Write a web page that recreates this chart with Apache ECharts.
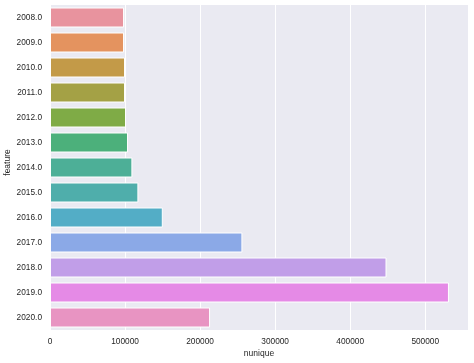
<!DOCTYPE html>
<html>
<head>
<meta charset="utf-8">
<script src="https://cdn.jsdelivr.net/npm/echarts@6/dist/echarts.min.js"></script>
<style>html,body{margin:0;padding:0;background:#fff}#c{width:474px;height:363px}</style>
</head>
<body>
<div id="c"></div>
<script>
const categories = ['2008.0','2009.0','2010.0','2011.0','2012.0','2013.0','2014.0','2015.0','2016.0','2017.0','2018.0','2019.0','2020.0'];
const values = [98700, 98700, 100000, 100000, 101300, 104000, 109800, 117800, 150300, 256400, 448400, 531600, 213300];
const barColors = ['#e8939e','#e4935f','#c39a48','#a4a145','#7fab46','#4cb07b','#4daf97','#4faeab','#53adc6','#8ba9e7','#c19ee8','#e58ae6','#e894c2'];
const xTicks = [0, 100000, 200000, 300000, 400000, 500000];
const xMax = 557000;

const chart = echarts.init(document.getElementById('c'), null, {renderer: 'canvas'});
const font = 'Liberation Sans, Arial, sans-serif';
chart.setOption({
  animation: false,
  grid: {left: 50, right: 6, top: 5, bottom: 33, show: true, backgroundColor: '#eaeaf2', borderWidth: 0,
    containLabel: false, outerBoundsMode: 'none'},
  xAxis: {
    type: 'value', min: 0, max: xMax, interval: 100000,
    name: 'nunique', nameLocation: 'middle', nameGap: 19, nameMoveOverlap: false,
    nameTextStyle: {fontFamily: font, fontSize: 8.5, color: '#262626'},
    axisLine: {show: false}, axisTick: {show: false},
    axisLabel: {fontFamily: font, fontSize: 8.3, color: '#262626', margin: 8,
      showMaxLabel: false,
      formatter: v => xTicks.includes(v) ? String(v) : ''},
    splitLine: {show: true, lineStyle: {color: '#ffffff', width: 1}}
  },
  yAxis: {
    type: 'category', data: categories, inverse: true,
    name: 'feature', nameLocation: 'middle', nameGap: 38, nameMoveOverlap: false,
    nameTextStyle: {fontFamily: font, fontSize: 8.5, color: '#262626', padding: [0,0,0,10]},
    axisLine: {show: false}, axisTick: {show: false},
    axisLabel: {fontFamily: font, fontSize: 8.3, color: '#262626', margin: 8},
    splitLine: {show: false}
  },
  series: [{
    type: 'bar',
    barCategoryGap: '20%',
    data: values.map((v, i) => ({value: v, itemStyle: {color: barColors[i]}})),
    itemStyle: {borderColor: '#ffffff', borderWidth: 1}
  }]
});
</script>
</body>
</html>
